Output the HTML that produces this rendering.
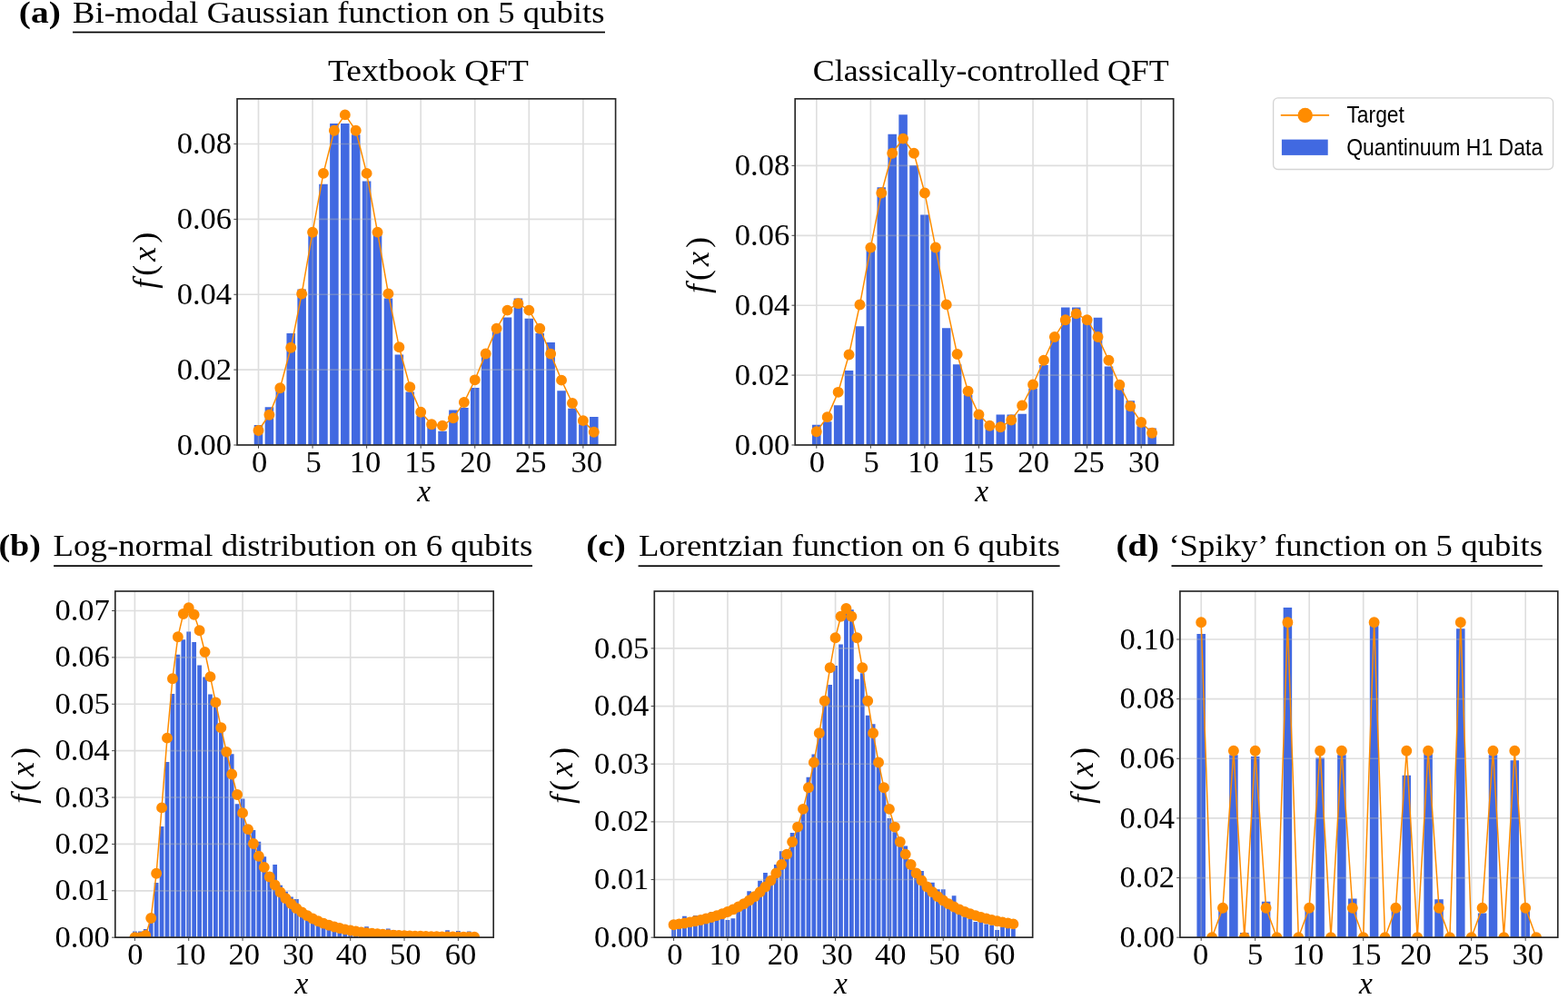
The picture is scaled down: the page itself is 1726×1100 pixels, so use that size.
<!DOCTYPE html>
<html><head><meta charset="utf-8"><title>QFT state preparation results</title>
<style>
html,body{margin:0;padding:0;background:#fff;}
svg{display:block;}
.tk{font-family:'Liberation Serif', 'DejaVu Serif', serif;font-size:34.6px;fill:#000;}
.ttl{font-family:'Liberation Serif', 'DejaVu Serif', serif;font-size:33.6px;fill:#000;}
.hb{font-family:'Liberation Serif', 'DejaVu Serif', serif;font-size:33.6px;font-weight:bold;fill:#000;}
.yl{font-family:'Liberation Serif', 'DejaVu Serif', serif;font-size:36px;fill:#000;}
.xl{font-family:'Liberation Serif', 'DejaVu Serif', serif;font-size:33.5px;font-style:italic;fill:#000;}
.lg{font-family:'Liberation Sans', 'DejaVu Sans', sans-serif;font-size:25.6px;fill:#000;}
</style></head>
<body>
<svg width="1726" height="1100" viewBox="0 0 1726 1100">
<rect width="1726" height="1100" fill="#fff"/>
<defs>
<clipPath id="clip-a1"><rect x="261.05" y="108.80" width="416.55" height="381.20"/></clipPath>
<clipPath id="clip-a2"><rect x="875.20" y="108.80" width="416.50" height="381.20"/></clipPath>
<clipPath id="clip-b"><rect x="126.80" y="651.00" width="416.40" height="381.20"/></clipPath>
<clipPath id="clip-c"><rect x="720.30" y="651.00" width="416.40" height="381.20"/></clipPath>
<clipPath id="clip-d"><rect x="1298.90" y="651.00" width="415.90" height="381.20"/></clipPath>
</defs>
<g clip-path="url(#clip-a1)"><path fill="#4169e1" d="M279.73 468.04h9.53V490.00h-9.53ZM291.65 448.15h9.53V490.00h-9.53ZM303.56 429.92h9.53V490.00h-9.53ZM315.47 366.93h9.53V490.00h-9.53ZM327.39 318.45h9.53V490.00h-9.53ZM339.30 259.19h9.53V490.00h-9.53ZM351.21 202.84h9.53V490.00h-9.53ZM363.13 136.12h9.53V490.00h-9.53ZM375.04 136.12h9.53V490.00h-9.53ZM386.95 148.14h9.53V490.00h-9.53ZM398.86 199.52h9.53V490.00h-9.53ZM410.78 257.95h9.53V490.00h-9.53ZM422.69 328.39h9.53V490.00h-9.53ZM434.60 390.55h9.53V490.00h-9.53ZM446.52 431.57h9.53V490.00h-9.53ZM458.43 457.68h9.53V490.00h-9.53ZM470.34 469.28h9.53V490.00h-9.53ZM482.26 474.67h9.53V490.00h-9.53ZM494.17 451.46h9.53V490.00h-9.53ZM506.08 448.98h9.53V490.00h-9.53ZM517.99 427.01h9.53V490.00h-9.53ZM529.91 393.04h9.53V490.00h-9.53ZM541.82 365.27h9.53V490.00h-9.53ZM553.73 349.53h9.53V490.00h-9.53ZM565.65 328.39h9.53V490.00h-9.53ZM577.56 350.77h9.53V490.00h-9.53ZM589.47 366.93h9.53V490.00h-9.53ZM601.39 376.88h9.53V490.00h-9.53ZM613.30 430.33h9.53V490.00h-9.53ZM625.21 449.81h9.53V490.00h-9.53ZM637.12 467.21h9.53V490.00h-9.53ZM649.04 458.92h9.53V490.00h-9.53Z"/><path stroke="#b0b0b0" stroke-opacity="0.42" stroke-width="1.65" fill="none" d="M284.50 108.80V490.00M344.06 108.80V490.00M403.63 108.80V490.00M463.19 108.80V490.00M522.76 108.80V490.00M582.33 108.80V490.00M641.89 108.80V490.00M261.05 490.00H677.60M261.05 407.12H677.60M261.05 324.25H677.60M261.05 241.38H677.60M261.05 158.50H677.60"/><polyline fill="none" stroke="#ff8c00" stroke-width="1.5" stroke-linejoin="round" points="284.50,474.02 296.41,456.77 308.33,427.31 320.24,382.73 332.15,323.53 344.06,255.70 355.98,190.90 367.89,143.72 379.80,126.39 391.72,143.72 403.63,190.89 415.54,255.65 427.46,323.39 439.37,382.30 451.28,426.13 463.19,453.78 475.11,467.18 487.02,468.79 498.93,460.38 510.85,443.04 522.76,418.33 534.67,389.49 546.59,361.79 558.50,341.59 570.41,334.17 582.33,341.59 594.24,361.82 606.15,389.58 618.06,418.65 629.98,444.03 641.89,463.13 653.80,475.76"/><path fill="#ff8c00" d="M278.55 474.02a5.95 5.95 0 1 0 11.9 0a5.95 5.95 0 1 0 -11.9 0ZM290.46 456.77a5.95 5.95 0 1 0 11.9 0a5.95 5.95 0 1 0 -11.9 0ZM302.38 427.31a5.95 5.95 0 1 0 11.9 0a5.95 5.95 0 1 0 -11.9 0ZM314.29 382.73a5.95 5.95 0 1 0 11.9 0a5.95 5.95 0 1 0 -11.9 0ZM326.20 323.53a5.95 5.95 0 1 0 11.9 0a5.95 5.95 0 1 0 -11.9 0ZM338.12 255.70a5.95 5.95 0 1 0 11.9 0a5.95 5.95 0 1 0 -11.9 0ZM350.03 190.90a5.95 5.95 0 1 0 11.9 0a5.95 5.95 0 1 0 -11.9 0ZM361.94 143.72a5.95 5.95 0 1 0 11.9 0a5.95 5.95 0 1 0 -11.9 0ZM373.85 126.39a5.95 5.95 0 1 0 11.9 0a5.95 5.95 0 1 0 -11.9 0ZM385.77 143.72a5.95 5.95 0 1 0 11.9 0a5.95 5.95 0 1 0 -11.9 0ZM397.68 190.89a5.95 5.95 0 1 0 11.9 0a5.95 5.95 0 1 0 -11.9 0ZM409.59 255.65a5.95 5.95 0 1 0 11.9 0a5.95 5.95 0 1 0 -11.9 0ZM421.51 323.39a5.95 5.95 0 1 0 11.9 0a5.95 5.95 0 1 0 -11.9 0ZM433.42 382.30a5.95 5.95 0 1 0 11.9 0a5.95 5.95 0 1 0 -11.9 0ZM445.33 426.13a5.95 5.95 0 1 0 11.9 0a5.95 5.95 0 1 0 -11.9 0ZM457.25 453.78a5.95 5.95 0 1 0 11.9 0a5.95 5.95 0 1 0 -11.9 0ZM469.16 467.18a5.95 5.95 0 1 0 11.9 0a5.95 5.95 0 1 0 -11.9 0ZM481.07 468.79a5.95 5.95 0 1 0 11.9 0a5.95 5.95 0 1 0 -11.9 0ZM492.98 460.38a5.95 5.95 0 1 0 11.9 0a5.95 5.95 0 1 0 -11.9 0ZM504.90 443.04a5.95 5.95 0 1 0 11.9 0a5.95 5.95 0 1 0 -11.9 0ZM516.81 418.33a5.95 5.95 0 1 0 11.9 0a5.95 5.95 0 1 0 -11.9 0ZM528.72 389.49a5.95 5.95 0 1 0 11.9 0a5.95 5.95 0 1 0 -11.9 0ZM540.64 361.79a5.95 5.95 0 1 0 11.9 0a5.95 5.95 0 1 0 -11.9 0ZM552.55 341.59a5.95 5.95 0 1 0 11.9 0a5.95 5.95 0 1 0 -11.9 0ZM564.46 334.17a5.95 5.95 0 1 0 11.9 0a5.95 5.95 0 1 0 -11.9 0ZM576.38 341.59a5.95 5.95 0 1 0 11.9 0a5.95 5.95 0 1 0 -11.9 0ZM588.29 361.82a5.95 5.95 0 1 0 11.9 0a5.95 5.95 0 1 0 -11.9 0ZM600.20 389.58a5.95 5.95 0 1 0 11.9 0a5.95 5.95 0 1 0 -11.9 0ZM612.11 418.65a5.95 5.95 0 1 0 11.9 0a5.95 5.95 0 1 0 -11.9 0ZM624.03 444.03a5.95 5.95 0 1 0 11.9 0a5.95 5.95 0 1 0 -11.9 0ZM635.94 463.13a5.95 5.95 0 1 0 11.9 0a5.95 5.95 0 1 0 -11.9 0ZM647.85 475.76a5.95 5.95 0 1 0 11.9 0a5.95 5.95 0 1 0 -11.9 0Z"/></g>
<rect x="261.05" y="108.80" width="416.55" height="381.20" fill="none" stroke="#262626" stroke-width="1.65"/>
<path stroke="#3a3a3a" stroke-width="0.95" fill="none" d="M284.50 490.00v3.7M344.06 490.00v3.7M403.63 490.00v3.7M463.19 490.00v3.7M522.76 490.00v3.7M582.33 490.00v3.7M641.89 490.00v3.7M261.05 490.00h-3.7M261.05 407.12h-3.7M261.05 324.25h-3.7M261.05 241.38h-3.7M261.05 158.50h-3.7"/>
<text x="285.60" y="519.60" text-anchor="middle" class="tk">0</text>
<text x="345.17" y="519.60" text-anchor="middle" class="tk">5</text>
<text x="402.13" y="519.60" text-anchor="middle" class="tk">10</text>
<text x="462.60" y="519.60" text-anchor="middle" class="tk">15</text>
<text x="523.66" y="519.60" text-anchor="middle" class="tk">20</text>
<text x="584.33" y="519.60" text-anchor="middle" class="tk">25</text>
<text x="645.69" y="519.60" text-anchor="middle" class="tk">30</text>
<text x="255.15" y="500.60" text-anchor="end" class="tk">0.00</text>
<text x="255.15" y="417.73" text-anchor="end" class="tk">0.02</text>
<text x="255.15" y="334.85" text-anchor="end" class="tk">0.04</text>
<text x="255.15" y="251.97" text-anchor="end" class="tk">0.06</text>
<text x="255.15" y="169.10" text-anchor="end" class="tk">0.08</text>
<g clip-path="url(#clip-a2)"><path fill="#4169e1" d="M894.03 467.70h9.53V490.00h-9.53ZM905.95 464.24h9.53V490.00h-9.53ZM917.86 446.17h9.53V490.00h-9.53ZM929.77 408.10h9.53V490.00h-9.53ZM941.69 359.27h9.53V490.00h-9.53ZM953.60 275.83h9.53V490.00h-9.53ZM965.51 206.24h9.53V490.00h-9.53ZM977.43 147.80h9.53V490.00h-9.53ZM989.34 126.26h9.53V490.00h-9.53ZM1001.25 182.02h9.53V490.00h-9.53ZM1013.16 236.61h9.53V490.00h-9.53ZM1025.08 275.83h9.53V490.00h-9.53ZM1036.99 361.19h9.53V490.00h-9.53ZM1048.90 401.18h9.53V490.00h-9.53ZM1060.82 435.02h9.53V490.00h-9.53ZM1072.73 460.78h9.53V490.00h-9.53ZM1084.64 469.62h9.53V490.00h-9.53ZM1096.56 456.55h9.53V490.00h-9.53ZM1108.47 456.55h9.53V490.00h-9.53ZM1120.38 455.78h9.53V490.00h-9.53ZM1132.29 427.71h9.53V490.00h-9.53ZM1144.21 401.95h9.53V490.00h-9.53ZM1156.12 373.88h9.53V490.00h-9.53ZM1168.03 338.51h9.53V490.00h-9.53ZM1179.95 338.51h9.53V490.00h-9.53ZM1191.86 349.66h9.53V490.00h-9.53ZM1203.77 349.66h9.53V490.00h-9.53ZM1215.69 403.49h9.53V490.00h-9.53ZM1227.60 427.71h9.53V490.00h-9.53ZM1239.51 441.17h9.53V490.00h-9.53ZM1251.42 469.24h9.53V490.00h-9.53ZM1263.34 471.54h9.53V490.00h-9.53Z"/><path stroke="#b0b0b0" stroke-opacity="0.42" stroke-width="1.65" fill="none" d="M898.80 108.80V490.00M958.37 108.80V490.00M1017.93 108.80V490.00M1077.49 108.80V490.00M1137.06 108.80V490.00M1196.62 108.80V490.00M1256.19 108.80V490.00M875.20 490.00H1291.70M875.20 413.10H1291.70M875.20 336.20H1291.70M875.20 259.30H1291.70M875.20 182.40H1291.70"/><polyline fill="none" stroke="#ff8c00" stroke-width="1.5" stroke-linejoin="round" points="898.80,475.18 910.71,459.16 922.63,431.83 934.54,390.46 946.45,335.53 958.37,272.59 970.28,212.47 982.19,168.69 994.10,152.61 1006.02,168.68 1017.93,212.46 1029.84,272.55 1041.76,335.40 1053.67,390.07 1065.58,430.73 1077.49,456.39 1089.41,468.82 1101.32,470.32 1113.23,462.51 1125.15,446.42 1137.06,423.50 1148.97,396.74 1160.89,371.03 1172.80,352.29 1184.71,345.40 1196.62,352.29 1208.54,371.06 1220.45,396.82 1232.36,423.80 1244.28,447.34 1256.19,465.07 1268.10,476.78"/><path fill="#ff8c00" d="M892.85 475.18a5.95 5.95 0 1 0 11.9 0a5.95 5.95 0 1 0 -11.9 0ZM904.76 459.16a5.95 5.95 0 1 0 11.9 0a5.95 5.95 0 1 0 -11.9 0ZM916.68 431.83a5.95 5.95 0 1 0 11.9 0a5.95 5.95 0 1 0 -11.9 0ZM928.59 390.46a5.95 5.95 0 1 0 11.9 0a5.95 5.95 0 1 0 -11.9 0ZM940.50 335.53a5.95 5.95 0 1 0 11.9 0a5.95 5.95 0 1 0 -11.9 0ZM952.41 272.59a5.95 5.95 0 1 0 11.9 0a5.95 5.95 0 1 0 -11.9 0ZM964.33 212.47a5.95 5.95 0 1 0 11.9 0a5.95 5.95 0 1 0 -11.9 0ZM976.24 168.69a5.95 5.95 0 1 0 11.9 0a5.95 5.95 0 1 0 -11.9 0ZM988.15 152.61a5.95 5.95 0 1 0 11.9 0a5.95 5.95 0 1 0 -11.9 0ZM1000.07 168.68a5.95 5.95 0 1 0 11.9 0a5.95 5.95 0 1 0 -11.9 0ZM1011.98 212.46a5.95 5.95 0 1 0 11.9 0a5.95 5.95 0 1 0 -11.9 0ZM1023.89 272.55a5.95 5.95 0 1 0 11.9 0a5.95 5.95 0 1 0 -11.9 0ZM1035.81 335.40a5.95 5.95 0 1 0 11.9 0a5.95 5.95 0 1 0 -11.9 0ZM1047.72 390.07a5.95 5.95 0 1 0 11.9 0a5.95 5.95 0 1 0 -11.9 0ZM1059.63 430.73a5.95 5.95 0 1 0 11.9 0a5.95 5.95 0 1 0 -11.9 0ZM1071.54 456.39a5.95 5.95 0 1 0 11.9 0a5.95 5.95 0 1 0 -11.9 0ZM1083.46 468.82a5.95 5.95 0 1 0 11.9 0a5.95 5.95 0 1 0 -11.9 0ZM1095.37 470.32a5.95 5.95 0 1 0 11.9 0a5.95 5.95 0 1 0 -11.9 0ZM1107.28 462.51a5.95 5.95 0 1 0 11.9 0a5.95 5.95 0 1 0 -11.9 0ZM1119.20 446.42a5.95 5.95 0 1 0 11.9 0a5.95 5.95 0 1 0 -11.9 0ZM1131.11 423.50a5.95 5.95 0 1 0 11.9 0a5.95 5.95 0 1 0 -11.9 0ZM1143.02 396.74a5.95 5.95 0 1 0 11.9 0a5.95 5.95 0 1 0 -11.9 0ZM1154.94 371.03a5.95 5.95 0 1 0 11.9 0a5.95 5.95 0 1 0 -11.9 0ZM1166.85 352.29a5.95 5.95 0 1 0 11.9 0a5.95 5.95 0 1 0 -11.9 0ZM1178.76 345.40a5.95 5.95 0 1 0 11.9 0a5.95 5.95 0 1 0 -11.9 0ZM1190.67 352.29a5.95 5.95 0 1 0 11.9 0a5.95 5.95 0 1 0 -11.9 0ZM1202.59 371.06a5.95 5.95 0 1 0 11.9 0a5.95 5.95 0 1 0 -11.9 0ZM1214.50 396.82a5.95 5.95 0 1 0 11.9 0a5.95 5.95 0 1 0 -11.9 0ZM1226.41 423.80a5.95 5.95 0 1 0 11.9 0a5.95 5.95 0 1 0 -11.9 0ZM1238.33 447.34a5.95 5.95 0 1 0 11.9 0a5.95 5.95 0 1 0 -11.9 0ZM1250.24 465.07a5.95 5.95 0 1 0 11.9 0a5.95 5.95 0 1 0 -11.9 0ZM1262.15 476.78a5.95 5.95 0 1 0 11.9 0a5.95 5.95 0 1 0 -11.9 0Z"/></g>
<rect x="875.20" y="108.80" width="416.50" height="381.20" fill="none" stroke="#262626" stroke-width="1.65"/>
<path stroke="#3a3a3a" stroke-width="0.95" fill="none" d="M898.80 490.00v3.7M958.37 490.00v3.7M1017.93 490.00v3.7M1077.49 490.00v3.7M1137.06 490.00v3.7M1196.62 490.00v3.7M1256.19 490.00v3.7M875.20 490.00h-3.7M875.20 413.10h-3.7M875.20 336.20h-3.7M875.20 259.30h-3.7M875.20 182.40h-3.7"/>
<text x="899.40" y="519.60" text-anchor="middle" class="tk">0</text>
<text x="959.17" y="519.60" text-anchor="middle" class="tk">5</text>
<text x="1016.43" y="519.60" text-anchor="middle" class="tk">10</text>
<text x="1076.69" y="519.60" text-anchor="middle" class="tk">15</text>
<text x="1137.66" y="519.60" text-anchor="middle" class="tk">20</text>
<text x="1198.42" y="519.60" text-anchor="middle" class="tk">25</text>
<text x="1259.29" y="519.60" text-anchor="middle" class="tk">30</text>
<text x="869.30" y="500.60" text-anchor="end" class="tk">0.00</text>
<text x="869.30" y="423.70" text-anchor="end" class="tk">0.02</text>
<text x="869.30" y="346.80" text-anchor="end" class="tk">0.04</text>
<text x="869.30" y="269.90" text-anchor="end" class="tk">0.06</text>
<text x="869.30" y="193.00" text-anchor="end" class="tk">0.08</text>
<g clip-path="url(#clip-b)"><path fill="#4169e1" d="M146.03 1025.52h4.75V1032.20h-4.75ZM151.96 1025.52h4.75V1032.20h-4.75ZM157.89 1022.95h4.75V1032.20h-4.75ZM163.83 1014.22h4.75V1032.20h-4.75ZM169.76 972.08h4.75V1032.20h-4.75ZM175.69 909.90h4.75V1032.20h-4.75ZM181.62 838.99h4.75V1032.20h-4.75ZM187.56 763.97h4.75V1032.20h-4.75ZM193.49 720.80h4.75V1032.20h-4.75ZM199.42 704.36h4.75V1032.20h-4.75ZM205.36 695.62h4.75V1032.20h-4.75ZM211.29 706.93h4.75V1032.20h-4.75ZM217.22 732.62h4.75V1032.20h-4.75ZM223.16 745.47h4.75V1032.20h-4.75ZM229.09 764.48h4.75V1032.20h-4.75ZM235.02 775.27h4.75V1032.20h-4.75ZM240.95 803.53h4.75V1032.20h-4.75ZM246.89 826.66h4.75V1032.20h-4.75ZM252.82 830.25h4.75V1032.20h-4.75ZM258.75 885.24h4.75V1032.20h-4.75ZM264.69 879.58h4.75V1032.20h-4.75ZM270.62 918.12h4.75V1032.20h-4.75ZM276.55 914.01h4.75V1032.20h-4.75ZM282.49 926.86h4.75V1032.20h-4.75ZM288.42 943.30h4.75V1032.20h-4.75ZM294.35 966.43h4.75V1032.20h-4.75ZM300.28 952.04h4.75V1032.20h-4.75ZM306.22 974.65h4.75V1032.20h-4.75ZM312.15 981.84h4.75V1032.20h-4.75ZM318.08 987.49h4.75V1032.20h-4.75ZM324.02 990.06h4.75V1032.20h-4.75ZM329.95 1006.06h4.75V1032.20h-4.75ZM335.88 1009.81h4.75V1032.20h-4.75ZM341.82 1013.04h4.75V1032.20h-4.75ZM347.75 1015.82h4.75V1032.20h-4.75ZM353.68 1018.21h4.75V1032.20h-4.75ZM359.61 1020.27h4.75V1032.20h-4.75ZM365.55 1022.05h4.75V1032.20h-4.75ZM371.48 1023.59h4.75V1032.20h-4.75ZM377.41 1024.91h4.75V1032.20h-4.75ZM383.35 1026.05h4.75V1032.20h-4.75ZM389.28 1027.04h4.75V1032.20h-4.75ZM395.21 1027.90h4.75V1032.20h-4.75ZM401.15 1020.18h4.75V1032.20h-4.75ZM407.08 1029.29h4.75V1032.20h-4.75ZM413.01 1029.84h4.75V1032.20h-4.75ZM418.94 1030.33h4.75V1032.20h-4.75ZM424.88 1022.44h4.75V1032.20h-4.75ZM430.81 1023.98h4.75V1032.20h-4.75ZM436.74 1031.44h4.75V1032.20h-4.75ZM442.68 1031.71h4.75V1032.20h-4.75ZM448.61 1031.96h4.75V1032.20h-4.75ZM454.54 1032.17h4.75V1032.20h-4.75ZM490.14 1024.24h4.75V1032.20h-4.75ZM502.01 1025.01h4.75V1032.20h-4.75ZM513.87 1025.52h4.75V1032.20h-4.75Z"/><path stroke="#b0b0b0" stroke-opacity="0.42" stroke-width="1.65" fill="none" d="M148.40 651.00V1032.20M207.73 651.00V1032.20M267.06 651.00V1032.20M326.39 651.00V1032.20M385.72 651.00V1032.20M445.05 651.00V1032.20M504.38 651.00V1032.20M126.80 1032.20H543.20M126.80 980.81H543.20M126.80 929.43H543.20M126.80 878.04H543.20M126.80 826.66H543.20M126.80 775.27H543.20M126.80 723.89H543.20M126.80 672.50H543.20"/><polyline fill="none" stroke="#ff8c00" stroke-width="1.5" stroke-linejoin="round" points="148.40,1032.20 154.33,1032.19 160.27,1029.97 166.20,1011.01 172.13,961.72 178.06,889.41 184.00,812.64 189.93,747.22 195.86,701.20 201.80,676.03 207.73,669.23 213.66,676.72 219.60,694.23 225.53,718.03 231.46,745.14 237.40,773.40 243.33,801.29 249.26,827.85 255.19,852.50 261.13,874.96 267.06,895.15 272.99,913.10 278.93,928.93 284.86,942.81 290.79,954.92 296.73,965.44 302.66,974.56 308.59,982.44 314.52,989.25 320.46,995.11 326.39,1000.17 332.32,1004.52 338.26,1008.27 344.19,1011.50 350.12,1014.28 356.06,1016.67 361.99,1018.73 367.92,1020.51 373.85,1022.04 379.79,1023.37 385.72,1024.51 391.65,1025.50 397.59,1026.36 403.52,1027.10 409.45,1027.74 415.38,1028.30 421.32,1028.79 427.25,1029.21 433.18,1029.58 439.12,1029.89 445.05,1030.17 450.98,1030.42 456.92,1030.63 462.85,1030.81 468.78,1030.98 474.72,1031.12 480.65,1031.25 486.58,1031.36 492.51,1031.45 498.45,1031.54 504.38,1031.61 510.31,1031.68 516.25,1031.74 522.18,1031.79"/><path fill="#ff8c00" d="M142.45 1032.20a5.95 5.95 0 1 0 11.9 0a5.95 5.95 0 1 0 -11.9 0ZM148.38 1032.19a5.95 5.95 0 1 0 11.9 0a5.95 5.95 0 1 0 -11.9 0ZM154.32 1029.97a5.95 5.95 0 1 0 11.9 0a5.95 5.95 0 1 0 -11.9 0ZM160.25 1011.01a5.95 5.95 0 1 0 11.9 0a5.95 5.95 0 1 0 -11.9 0ZM166.18 961.72a5.95 5.95 0 1 0 11.9 0a5.95 5.95 0 1 0 -11.9 0ZM172.12 889.41a5.95 5.95 0 1 0 11.9 0a5.95 5.95 0 1 0 -11.9 0ZM178.05 812.64a5.95 5.95 0 1 0 11.9 0a5.95 5.95 0 1 0 -11.9 0ZM183.98 747.22a5.95 5.95 0 1 0 11.9 0a5.95 5.95 0 1 0 -11.9 0ZM189.91 701.20a5.95 5.95 0 1 0 11.9 0a5.95 5.95 0 1 0 -11.9 0ZM195.85 676.03a5.95 5.95 0 1 0 11.9 0a5.95 5.95 0 1 0 -11.9 0ZM201.78 669.23a5.95 5.95 0 1 0 11.9 0a5.95 5.95 0 1 0 -11.9 0ZM207.71 676.72a5.95 5.95 0 1 0 11.9 0a5.95 5.95 0 1 0 -11.9 0ZM213.65 694.23a5.95 5.95 0 1 0 11.9 0a5.95 5.95 0 1 0 -11.9 0ZM219.58 718.03a5.95 5.95 0 1 0 11.9 0a5.95 5.95 0 1 0 -11.9 0ZM225.51 745.14a5.95 5.95 0 1 0 11.9 0a5.95 5.95 0 1 0 -11.9 0ZM231.45 773.40a5.95 5.95 0 1 0 11.9 0a5.95 5.95 0 1 0 -11.9 0ZM237.38 801.29a5.95 5.95 0 1 0 11.9 0a5.95 5.95 0 1 0 -11.9 0ZM243.31 827.85a5.95 5.95 0 1 0 11.9 0a5.95 5.95 0 1 0 -11.9 0ZM249.24 852.50a5.95 5.95 0 1 0 11.9 0a5.95 5.95 0 1 0 -11.9 0ZM255.18 874.96a5.95 5.95 0 1 0 11.9 0a5.95 5.95 0 1 0 -11.9 0ZM261.11 895.15a5.95 5.95 0 1 0 11.9 0a5.95 5.95 0 1 0 -11.9 0ZM267.04 913.10a5.95 5.95 0 1 0 11.9 0a5.95 5.95 0 1 0 -11.9 0ZM272.98 928.93a5.95 5.95 0 1 0 11.9 0a5.95 5.95 0 1 0 -11.9 0ZM278.91 942.81a5.95 5.95 0 1 0 11.9 0a5.95 5.95 0 1 0 -11.9 0ZM284.84 954.92a5.95 5.95 0 1 0 11.9 0a5.95 5.95 0 1 0 -11.9 0ZM290.78 965.44a5.95 5.95 0 1 0 11.9 0a5.95 5.95 0 1 0 -11.9 0ZM296.71 974.56a5.95 5.95 0 1 0 11.9 0a5.95 5.95 0 1 0 -11.9 0ZM302.64 982.44a5.95 5.95 0 1 0 11.9 0a5.95 5.95 0 1 0 -11.9 0ZM308.57 989.25a5.95 5.95 0 1 0 11.9 0a5.95 5.95 0 1 0 -11.9 0ZM314.51 995.11a5.95 5.95 0 1 0 11.9 0a5.95 5.95 0 1 0 -11.9 0ZM320.44 1000.17a5.95 5.95 0 1 0 11.9 0a5.95 5.95 0 1 0 -11.9 0ZM326.37 1004.52a5.95 5.95 0 1 0 11.9 0a5.95 5.95 0 1 0 -11.9 0ZM332.31 1008.27a5.95 5.95 0 1 0 11.9 0a5.95 5.95 0 1 0 -11.9 0ZM338.24 1011.50a5.95 5.95 0 1 0 11.9 0a5.95 5.95 0 1 0 -11.9 0ZM344.17 1014.28a5.95 5.95 0 1 0 11.9 0a5.95 5.95 0 1 0 -11.9 0ZM350.11 1016.67a5.95 5.95 0 1 0 11.9 0a5.95 5.95 0 1 0 -11.9 0ZM356.04 1018.73a5.95 5.95 0 1 0 11.9 0a5.95 5.95 0 1 0 -11.9 0ZM361.97 1020.51a5.95 5.95 0 1 0 11.9 0a5.95 5.95 0 1 0 -11.9 0ZM367.90 1022.04a5.95 5.95 0 1 0 11.9 0a5.95 5.95 0 1 0 -11.9 0ZM373.84 1023.37a5.95 5.95 0 1 0 11.9 0a5.95 5.95 0 1 0 -11.9 0ZM379.77 1024.51a5.95 5.95 0 1 0 11.9 0a5.95 5.95 0 1 0 -11.9 0ZM385.70 1025.50a5.95 5.95 0 1 0 11.9 0a5.95 5.95 0 1 0 -11.9 0ZM391.64 1026.36a5.95 5.95 0 1 0 11.9 0a5.95 5.95 0 1 0 -11.9 0ZM397.57 1027.10a5.95 5.95 0 1 0 11.9 0a5.95 5.95 0 1 0 -11.9 0ZM403.50 1027.74a5.95 5.95 0 1 0 11.9 0a5.95 5.95 0 1 0 -11.9 0ZM409.44 1028.30a5.95 5.95 0 1 0 11.9 0a5.95 5.95 0 1 0 -11.9 0ZM415.37 1028.79a5.95 5.95 0 1 0 11.9 0a5.95 5.95 0 1 0 -11.9 0ZM421.30 1029.21a5.95 5.95 0 1 0 11.9 0a5.95 5.95 0 1 0 -11.9 0ZM427.23 1029.58a5.95 5.95 0 1 0 11.9 0a5.95 5.95 0 1 0 -11.9 0ZM433.17 1029.89a5.95 5.95 0 1 0 11.9 0a5.95 5.95 0 1 0 -11.9 0ZM439.10 1030.17a5.95 5.95 0 1 0 11.9 0a5.95 5.95 0 1 0 -11.9 0ZM445.03 1030.42a5.95 5.95 0 1 0 11.9 0a5.95 5.95 0 1 0 -11.9 0ZM450.97 1030.63a5.95 5.95 0 1 0 11.9 0a5.95 5.95 0 1 0 -11.9 0ZM456.90 1030.81a5.95 5.95 0 1 0 11.9 0a5.95 5.95 0 1 0 -11.9 0ZM462.83 1030.98a5.95 5.95 0 1 0 11.9 0a5.95 5.95 0 1 0 -11.9 0ZM468.77 1031.12a5.95 5.95 0 1 0 11.9 0a5.95 5.95 0 1 0 -11.9 0ZM474.70 1031.25a5.95 5.95 0 1 0 11.9 0a5.95 5.95 0 1 0 -11.9 0ZM480.63 1031.36a5.95 5.95 0 1 0 11.9 0a5.95 5.95 0 1 0 -11.9 0ZM486.56 1031.45a5.95 5.95 0 1 0 11.9 0a5.95 5.95 0 1 0 -11.9 0ZM492.50 1031.54a5.95 5.95 0 1 0 11.9 0a5.95 5.95 0 1 0 -11.9 0ZM498.43 1031.61a5.95 5.95 0 1 0 11.9 0a5.95 5.95 0 1 0 -11.9 0ZM504.36 1031.68a5.95 5.95 0 1 0 11.9 0a5.95 5.95 0 1 0 -11.9 0ZM510.30 1031.74a5.95 5.95 0 1 0 11.9 0a5.95 5.95 0 1 0 -11.9 0ZM516.23 1031.79a5.95 5.95 0 1 0 11.9 0a5.95 5.95 0 1 0 -11.9 0Z"/></g>
<rect x="126.80" y="651.00" width="416.40" height="381.20" fill="none" stroke="#262626" stroke-width="1.65"/>
<path stroke="#3a3a3a" stroke-width="0.95" fill="none" d="M148.40 1032.20v3.7M207.73 1032.20v3.7M267.06 1032.20v3.7M326.39 1032.20v3.7M385.72 1032.20v3.7M445.05 1032.20v3.7M504.38 1032.20v3.7M126.80 1032.20h-3.7M126.80 980.81h-3.7M126.80 929.43h-3.7M126.80 878.04h-3.7M126.80 826.66h-3.7M126.80 775.27h-3.7M126.80 723.89h-3.7M126.80 672.50h-3.7"/>
<text x="149.00" y="1061.80" text-anchor="middle" class="tk">0</text>
<text x="209.33" y="1061.80" text-anchor="middle" class="tk">10</text>
<text x="268.86" y="1061.80" text-anchor="middle" class="tk">20</text>
<text x="328.19" y="1061.80" text-anchor="middle" class="tk">30</text>
<text x="387.02" y="1061.80" text-anchor="middle" class="tk">40</text>
<text x="446.25" y="1061.80" text-anchor="middle" class="tk">50</text>
<text x="506.98" y="1061.80" text-anchor="middle" class="tk">60</text>
<text x="120.90" y="1042.80" text-anchor="end" class="tk">0.00</text>
<text x="120.90" y="991.41" text-anchor="end" class="tk">0.01</text>
<text x="120.90" y="940.03" text-anchor="end" class="tk">0.02</text>
<text x="120.90" y="888.64" text-anchor="end" class="tk">0.03</text>
<text x="120.90" y="837.26" text-anchor="end" class="tk">0.04</text>
<text x="120.90" y="785.87" text-anchor="end" class="tk">0.05</text>
<text x="120.90" y="734.49" text-anchor="end" class="tk">0.06</text>
<text x="120.90" y="683.10" text-anchor="end" class="tk">0.07</text>
<g clip-path="url(#clip-c)"><path fill="#4169e1" d="M739.23 1020.82h4.75V1032.20h-4.75ZM745.16 1019.94h4.75V1032.20h-4.75ZM751.09 1008.65h4.75V1032.20h-4.75ZM757.03 1017.93h4.75V1032.20h-4.75ZM762.96 1008.01h4.75V1032.20h-4.75ZM768.89 1015.48h4.75V1032.20h-4.75ZM774.82 1014.06h4.75V1032.20h-4.75ZM780.76 1004.19h4.75V1032.20h-4.75ZM786.69 1010.70h4.75V1032.20h-4.75ZM792.62 1008.72h4.75V1032.20h-4.75ZM798.56 1013.10h4.75V1032.20h-4.75ZM804.49 1011.19h4.75V1032.20h-4.75ZM810.42 1001.11h4.75V1032.20h-4.75ZM816.36 997.84h4.75V1032.20h-4.75ZM822.29 981.27h4.75V1032.20h-4.75ZM828.22 989.79h4.75V1032.20h-4.75ZM834.15 969.81h4.75V1032.20h-4.75ZM840.09 960.90h4.75V1032.20h-4.75ZM846.02 972.15h4.75V1032.20h-4.75ZM851.95 951.99h4.75V1032.20h-4.75ZM857.89 937.35h4.75V1032.20h-4.75ZM863.82 943.16h4.75V1032.20h-4.75ZM869.75 916.98h4.75V1032.20h-4.75ZM875.69 913.12h4.75V1032.20h-4.75ZM881.62 893.43h4.75V1032.20h-4.75ZM887.55 855.86h4.75V1032.20h-4.75ZM893.48 830.40h4.75V1032.20h-4.75ZM899.42 809.87h4.75V1032.20h-4.75ZM905.35 774.34h4.75V1032.20h-4.75ZM911.28 754.01h4.75V1032.20h-4.75ZM917.22 733.00h4.75V1032.20h-4.75ZM923.15 709.44h4.75V1032.20h-4.75ZM929.08 675.07h4.75V1032.20h-4.75ZM935.02 671.25h4.75V1032.20h-4.75ZM940.95 747.64h4.75V1032.20h-4.75ZM946.88 741.27h4.75V1032.20h-4.75ZM952.81 787.75h4.75V1032.20h-4.75ZM958.75 797.29h4.75V1032.20h-4.75ZM964.68 842.01h4.75V1032.20h-4.75ZM970.61 869.86h4.75V1032.20h-4.75ZM976.55 901.06h4.75V1032.20h-4.75ZM982.48 916.34h4.75V1032.20h-4.75ZM988.41 929.52h4.75V1032.20h-4.75ZM994.35 931.62h4.75V1032.20h-4.75ZM1000.28 954.55h4.75V1032.20h-4.75ZM1006.21 957.08h4.75V1032.20h-4.75ZM1012.14 958.99h4.75V1032.20h-4.75ZM1018.08 978.97h4.75V1032.20h-4.75ZM1024.01 971.72h4.75V1032.20h-4.75ZM1029.94 979.36h4.75V1032.20h-4.75ZM1035.88 979.36h4.75V1032.20h-4.75ZM1041.81 997.84h4.75V1032.20h-4.75ZM1047.74 986.36h4.75V1032.20h-4.75ZM1053.68 1002.28h4.75V1032.20h-4.75ZM1059.61 1009.28h4.75V1032.20h-4.75ZM1065.54 1011.83h4.75V1032.20h-4.75ZM1071.47 1015.01h4.75V1032.20h-4.75ZM1077.41 1015.01h4.75V1032.20h-4.75ZM1083.34 1017.56h4.75V1032.20h-4.75ZM1089.27 1018.83h4.75V1032.20h-4.75ZM1095.21 1023.92h4.75V1032.20h-4.75ZM1101.14 1020.74h4.75V1032.20h-4.75ZM1107.07 1022.01h4.75V1032.20h-4.75ZM1113.01 1022.65h4.75V1032.20h-4.75Z"/><path stroke="#b0b0b0" stroke-opacity="0.42" stroke-width="1.65" fill="none" d="M741.60 651.00V1032.20M800.93 651.00V1032.20M860.26 651.00V1032.20M919.59 651.00V1032.20M978.92 651.00V1032.20M1038.25 651.00V1032.20M1097.58 651.00V1032.20M720.30 1032.20H1136.70M720.30 968.54H1136.70M720.30 904.88H1136.70M720.30 841.22H1136.70M720.30 777.56H1136.70M720.30 713.90H1136.70"/><polyline fill="none" stroke="#ff8c00" stroke-width="1.5" stroke-linejoin="round" points="741.60,1018.27 747.53,1017.40 753.47,1016.44 759.40,1015.38 765.33,1014.22 771.26,1012.94 777.20,1011.51 783.13,1009.93 789.06,1008.16 795.00,1006.18 800.93,1003.94 806.86,1001.42 812.80,998.56 818.73,995.30 824.66,991.56 830.60,987.25 836.53,982.25 842.46,976.43 848.39,969.60 854.33,961.55 860.26,952.00 866.19,940.62 872.13,926.97 878.06,910.58 883.99,890.88 889.92,867.32 895.86,839.46 901.79,807.32 907.72,771.79 913.66,735.30 919.59,702.28 925.52,678.70 931.46,670.07 937.39,678.70 943.32,702.28 949.25,735.30 955.19,771.79 961.12,807.32 967.05,839.46 972.99,867.32 978.92,890.88 984.85,910.58 990.79,926.97 996.72,940.62 1002.65,952.00 1008.59,961.55 1014.52,969.60 1020.45,976.43 1026.38,982.25 1032.32,987.25 1038.25,991.56 1044.18,995.30 1050.12,998.56 1056.05,1001.42 1061.98,1003.94 1067.91,1006.18 1073.85,1008.16 1079.78,1009.93 1085.71,1011.51 1091.65,1012.94 1097.58,1014.22 1103.51,1015.38 1109.45,1016.44 1115.38,1017.40"/><path fill="#ff8c00" d="M735.65 1018.27a5.95 5.95 0 1 0 11.9 0a5.95 5.95 0 1 0 -11.9 0ZM741.58 1017.40a5.95 5.95 0 1 0 11.9 0a5.95 5.95 0 1 0 -11.9 0ZM747.52 1016.44a5.95 5.95 0 1 0 11.9 0a5.95 5.95 0 1 0 -11.9 0ZM753.45 1015.38a5.95 5.95 0 1 0 11.9 0a5.95 5.95 0 1 0 -11.9 0ZM759.38 1014.22a5.95 5.95 0 1 0 11.9 0a5.95 5.95 0 1 0 -11.9 0ZM765.31 1012.94a5.95 5.95 0 1 0 11.9 0a5.95 5.95 0 1 0 -11.9 0ZM771.25 1011.51a5.95 5.95 0 1 0 11.9 0a5.95 5.95 0 1 0 -11.9 0ZM777.18 1009.93a5.95 5.95 0 1 0 11.9 0a5.95 5.95 0 1 0 -11.9 0ZM783.11 1008.16a5.95 5.95 0 1 0 11.9 0a5.95 5.95 0 1 0 -11.9 0ZM789.05 1006.18a5.95 5.95 0 1 0 11.9 0a5.95 5.95 0 1 0 -11.9 0ZM794.98 1003.94a5.95 5.95 0 1 0 11.9 0a5.95 5.95 0 1 0 -11.9 0ZM800.91 1001.42a5.95 5.95 0 1 0 11.9 0a5.95 5.95 0 1 0 -11.9 0ZM806.85 998.56a5.95 5.95 0 1 0 11.9 0a5.95 5.95 0 1 0 -11.9 0ZM812.78 995.30a5.95 5.95 0 1 0 11.9 0a5.95 5.95 0 1 0 -11.9 0ZM818.71 991.56a5.95 5.95 0 1 0 11.9 0a5.95 5.95 0 1 0 -11.9 0ZM824.64 987.25a5.95 5.95 0 1 0 11.9 0a5.95 5.95 0 1 0 -11.9 0ZM830.58 982.25a5.95 5.95 0 1 0 11.9 0a5.95 5.95 0 1 0 -11.9 0ZM836.51 976.43a5.95 5.95 0 1 0 11.9 0a5.95 5.95 0 1 0 -11.9 0ZM842.44 969.60a5.95 5.95 0 1 0 11.9 0a5.95 5.95 0 1 0 -11.9 0ZM848.38 961.55a5.95 5.95 0 1 0 11.9 0a5.95 5.95 0 1 0 -11.9 0ZM854.31 952.00a5.95 5.95 0 1 0 11.9 0a5.95 5.95 0 1 0 -11.9 0ZM860.24 940.62a5.95 5.95 0 1 0 11.9 0a5.95 5.95 0 1 0 -11.9 0ZM866.18 926.97a5.95 5.95 0 1 0 11.9 0a5.95 5.95 0 1 0 -11.9 0ZM872.11 910.58a5.95 5.95 0 1 0 11.9 0a5.95 5.95 0 1 0 -11.9 0ZM878.04 890.88a5.95 5.95 0 1 0 11.9 0a5.95 5.95 0 1 0 -11.9 0ZM883.97 867.32a5.95 5.95 0 1 0 11.9 0a5.95 5.95 0 1 0 -11.9 0ZM889.91 839.46a5.95 5.95 0 1 0 11.9 0a5.95 5.95 0 1 0 -11.9 0ZM895.84 807.32a5.95 5.95 0 1 0 11.9 0a5.95 5.95 0 1 0 -11.9 0ZM901.77 771.79a5.95 5.95 0 1 0 11.9 0a5.95 5.95 0 1 0 -11.9 0ZM907.71 735.30a5.95 5.95 0 1 0 11.9 0a5.95 5.95 0 1 0 -11.9 0ZM913.64 702.28a5.95 5.95 0 1 0 11.9 0a5.95 5.95 0 1 0 -11.9 0ZM919.57 678.70a5.95 5.95 0 1 0 11.9 0a5.95 5.95 0 1 0 -11.9 0ZM925.51 670.07a5.95 5.95 0 1 0 11.9 0a5.95 5.95 0 1 0 -11.9 0ZM931.44 678.70a5.95 5.95 0 1 0 11.9 0a5.95 5.95 0 1 0 -11.9 0ZM937.37 702.28a5.95 5.95 0 1 0 11.9 0a5.95 5.95 0 1 0 -11.9 0ZM943.30 735.30a5.95 5.95 0 1 0 11.9 0a5.95 5.95 0 1 0 -11.9 0ZM949.24 771.79a5.95 5.95 0 1 0 11.9 0a5.95 5.95 0 1 0 -11.9 0ZM955.17 807.32a5.95 5.95 0 1 0 11.9 0a5.95 5.95 0 1 0 -11.9 0ZM961.10 839.46a5.95 5.95 0 1 0 11.9 0a5.95 5.95 0 1 0 -11.9 0ZM967.04 867.32a5.95 5.95 0 1 0 11.9 0a5.95 5.95 0 1 0 -11.9 0ZM972.97 890.88a5.95 5.95 0 1 0 11.9 0a5.95 5.95 0 1 0 -11.9 0ZM978.90 910.58a5.95 5.95 0 1 0 11.9 0a5.95 5.95 0 1 0 -11.9 0ZM984.84 926.97a5.95 5.95 0 1 0 11.9 0a5.95 5.95 0 1 0 -11.9 0ZM990.77 940.62a5.95 5.95 0 1 0 11.9 0a5.95 5.95 0 1 0 -11.9 0ZM996.70 952.00a5.95 5.95 0 1 0 11.9 0a5.95 5.95 0 1 0 -11.9 0ZM1002.63 961.55a5.95 5.95 0 1 0 11.9 0a5.95 5.95 0 1 0 -11.9 0ZM1008.57 969.60a5.95 5.95 0 1 0 11.9 0a5.95 5.95 0 1 0 -11.9 0ZM1014.50 976.43a5.95 5.95 0 1 0 11.9 0a5.95 5.95 0 1 0 -11.9 0ZM1020.43 982.25a5.95 5.95 0 1 0 11.9 0a5.95 5.95 0 1 0 -11.9 0ZM1026.37 987.25a5.95 5.95 0 1 0 11.9 0a5.95 5.95 0 1 0 -11.9 0ZM1032.30 991.56a5.95 5.95 0 1 0 11.9 0a5.95 5.95 0 1 0 -11.9 0ZM1038.23 995.30a5.95 5.95 0 1 0 11.9 0a5.95 5.95 0 1 0 -11.9 0ZM1044.17 998.56a5.95 5.95 0 1 0 11.9 0a5.95 5.95 0 1 0 -11.9 0ZM1050.10 1001.42a5.95 5.95 0 1 0 11.9 0a5.95 5.95 0 1 0 -11.9 0ZM1056.03 1003.94a5.95 5.95 0 1 0 11.9 0a5.95 5.95 0 1 0 -11.9 0ZM1061.96 1006.18a5.95 5.95 0 1 0 11.9 0a5.95 5.95 0 1 0 -11.9 0ZM1067.90 1008.16a5.95 5.95 0 1 0 11.9 0a5.95 5.95 0 1 0 -11.9 0ZM1073.83 1009.93a5.95 5.95 0 1 0 11.9 0a5.95 5.95 0 1 0 -11.9 0ZM1079.76 1011.51a5.95 5.95 0 1 0 11.9 0a5.95 5.95 0 1 0 -11.9 0ZM1085.70 1012.94a5.95 5.95 0 1 0 11.9 0a5.95 5.95 0 1 0 -11.9 0ZM1091.63 1014.22a5.95 5.95 0 1 0 11.9 0a5.95 5.95 0 1 0 -11.9 0ZM1097.56 1015.38a5.95 5.95 0 1 0 11.9 0a5.95 5.95 0 1 0 -11.9 0ZM1103.50 1016.44a5.95 5.95 0 1 0 11.9 0a5.95 5.95 0 1 0 -11.9 0ZM1109.43 1017.40a5.95 5.95 0 1 0 11.9 0a5.95 5.95 0 1 0 -11.9 0Z"/></g>
<rect x="720.30" y="651.00" width="416.40" height="381.20" fill="none" stroke="#262626" stroke-width="1.65"/>
<path stroke="#3a3a3a" stroke-width="0.95" fill="none" d="M741.60 1032.20v3.7M800.93 1032.20v3.7M860.26 1032.20v3.7M919.59 1032.20v3.7M978.92 1032.20v3.7M1038.25 1032.20v3.7M1097.58 1032.20v3.7M720.30 1032.20h-3.7M720.30 968.54h-3.7M720.30 904.88h-3.7M720.30 841.22h-3.7M720.30 777.56h-3.7M720.30 713.90h-3.7"/>
<text x="742.80" y="1061.80" text-anchor="middle" class="tk">0</text>
<text x="797.73" y="1061.80" text-anchor="middle" class="tk">10</text>
<text x="862.06" y="1061.80" text-anchor="middle" class="tk">20</text>
<text x="921.39" y="1061.80" text-anchor="middle" class="tk">30</text>
<text x="980.22" y="1061.80" text-anchor="middle" class="tk">40</text>
<text x="1039.45" y="1061.80" text-anchor="middle" class="tk">50</text>
<text x="1100.18" y="1061.80" text-anchor="middle" class="tk">60</text>
<text x="714.40" y="1042.80" text-anchor="end" class="tk">0.00</text>
<text x="714.40" y="979.14" text-anchor="end" class="tk">0.01</text>
<text x="714.40" y="915.48" text-anchor="end" class="tk">0.02</text>
<text x="714.40" y="851.82" text-anchor="end" class="tk">0.03</text>
<text x="714.40" y="788.16" text-anchor="end" class="tk">0.04</text>
<text x="714.40" y="724.50" text-anchor="end" class="tk">0.05</text>
<g clip-path="url(#clip-d)"><path fill="#4169e1" d="M1317.44 698.09h9.52V1032.20h-9.52ZM1341.24 1002.33h9.52V1032.20h-9.52ZM1353.14 831.34h9.52V1032.20h-9.52ZM1365.04 1026.95h9.52V1032.20h-9.52ZM1376.94 832.98h9.52V1032.20h-9.52ZM1388.84 992.82h9.52V1032.20h-9.52ZM1412.64 668.88h9.52V1032.20h-9.52ZM1436.44 1002.66h9.52V1032.20h-9.52ZM1448.34 834.62h9.52V1032.20h-9.52ZM1472.14 831.34h9.52V1032.20h-9.52ZM1484.04 989.53h9.52V1032.20h-9.52ZM1507.84 687.92h9.52V1032.20h-9.52ZM1531.64 1002.33h9.52V1032.20h-9.52ZM1543.54 853.66h9.52V1032.20h-9.52ZM1567.34 830.36h9.52V1032.20h-9.52ZM1579.24 990.19h9.52V1032.20h-9.52ZM1603.04 692.18h9.52V1032.20h-9.52ZM1626.84 1005.62h9.52V1032.20h-9.52ZM1638.74 831.34h9.52V1032.20h-9.52ZM1662.54 837.25h9.52V1032.20h-9.52ZM1674.44 1002.66h9.52V1032.20h-9.52Z"/><path stroke="#b0b0b0" stroke-opacity="0.42" stroke-width="1.65" fill="none" d="M1322.20 651.00V1032.20M1381.70 651.00V1032.20M1441.20 651.00V1032.20M1500.70 651.00V1032.20M1560.20 651.00V1032.20M1619.70 651.00V1032.20M1679.20 651.00V1032.20M1298.90 1032.20H1714.80M1298.90 966.56H1714.80M1298.90 900.92H1714.80M1298.90 835.28H1714.80M1298.90 769.64H1714.80M1298.90 704.00H1714.80"/><polyline fill="none" stroke="#ff8c00" stroke-width="1.5" stroke-linejoin="round" points="1322.20,685.29 1334.10,1032.20 1346.00,999.71 1357.90,826.75 1369.80,1032.20 1381.70,826.75 1393.60,999.71 1405.50,1032.20 1417.40,685.29 1429.30,1032.20 1441.20,999.71 1453.10,826.75 1465.00,1032.20 1476.90,826.75 1488.80,999.71 1500.70,1032.20 1512.60,685.29 1524.50,1032.20 1536.40,999.71 1548.30,826.75 1560.20,1032.20 1572.10,826.75 1584.00,999.71 1595.90,1032.20 1607.80,685.29 1619.70,1032.20 1631.60,999.71 1643.50,826.75 1655.40,1032.20 1667.30,826.75 1679.20,999.71 1691.10,1032.20"/><path fill="#ff8c00" d="M1316.25 685.29a5.95 5.95 0 1 0 11.9 0a5.95 5.95 0 1 0 -11.9 0ZM1328.15 1032.20a5.95 5.95 0 1 0 11.9 0a5.95 5.95 0 1 0 -11.9 0ZM1340.05 999.71a5.95 5.95 0 1 0 11.9 0a5.95 5.95 0 1 0 -11.9 0ZM1351.95 826.75a5.95 5.95 0 1 0 11.9 0a5.95 5.95 0 1 0 -11.9 0ZM1363.85 1032.20a5.95 5.95 0 1 0 11.9 0a5.95 5.95 0 1 0 -11.9 0ZM1375.75 826.75a5.95 5.95 0 1 0 11.9 0a5.95 5.95 0 1 0 -11.9 0ZM1387.65 999.71a5.95 5.95 0 1 0 11.9 0a5.95 5.95 0 1 0 -11.9 0ZM1399.55 1032.20a5.95 5.95 0 1 0 11.9 0a5.95 5.95 0 1 0 -11.9 0ZM1411.45 685.29a5.95 5.95 0 1 0 11.9 0a5.95 5.95 0 1 0 -11.9 0ZM1423.35 1032.20a5.95 5.95 0 1 0 11.9 0a5.95 5.95 0 1 0 -11.9 0ZM1435.25 999.71a5.95 5.95 0 1 0 11.9 0a5.95 5.95 0 1 0 -11.9 0ZM1447.15 826.75a5.95 5.95 0 1 0 11.9 0a5.95 5.95 0 1 0 -11.9 0ZM1459.05 1032.20a5.95 5.95 0 1 0 11.9 0a5.95 5.95 0 1 0 -11.9 0ZM1470.95 826.75a5.95 5.95 0 1 0 11.9 0a5.95 5.95 0 1 0 -11.9 0ZM1482.85 999.71a5.95 5.95 0 1 0 11.9 0a5.95 5.95 0 1 0 -11.9 0ZM1494.75 1032.20a5.95 5.95 0 1 0 11.9 0a5.95 5.95 0 1 0 -11.9 0ZM1506.65 685.29a5.95 5.95 0 1 0 11.9 0a5.95 5.95 0 1 0 -11.9 0ZM1518.55 1032.20a5.95 5.95 0 1 0 11.9 0a5.95 5.95 0 1 0 -11.9 0ZM1530.45 999.71a5.95 5.95 0 1 0 11.9 0a5.95 5.95 0 1 0 -11.9 0ZM1542.35 826.75a5.95 5.95 0 1 0 11.9 0a5.95 5.95 0 1 0 -11.9 0ZM1554.25 1032.20a5.95 5.95 0 1 0 11.9 0a5.95 5.95 0 1 0 -11.9 0ZM1566.15 826.75a5.95 5.95 0 1 0 11.9 0a5.95 5.95 0 1 0 -11.9 0ZM1578.05 999.71a5.95 5.95 0 1 0 11.9 0a5.95 5.95 0 1 0 -11.9 0ZM1589.95 1032.20a5.95 5.95 0 1 0 11.9 0a5.95 5.95 0 1 0 -11.9 0ZM1601.85 685.29a5.95 5.95 0 1 0 11.9 0a5.95 5.95 0 1 0 -11.9 0ZM1613.75 1032.20a5.95 5.95 0 1 0 11.9 0a5.95 5.95 0 1 0 -11.9 0ZM1625.65 999.71a5.95 5.95 0 1 0 11.9 0a5.95 5.95 0 1 0 -11.9 0ZM1637.55 826.75a5.95 5.95 0 1 0 11.9 0a5.95 5.95 0 1 0 -11.9 0ZM1649.45 1032.20a5.95 5.95 0 1 0 11.9 0a5.95 5.95 0 1 0 -11.9 0ZM1661.35 826.75a5.95 5.95 0 1 0 11.9 0a5.95 5.95 0 1 0 -11.9 0ZM1673.25 999.71a5.95 5.95 0 1 0 11.9 0a5.95 5.95 0 1 0 -11.9 0ZM1685.15 1032.20a5.95 5.95 0 1 0 11.9 0a5.95 5.95 0 1 0 -11.9 0Z"/></g>
<rect x="1298.90" y="651.00" width="415.90" height="381.20" fill="none" stroke="#262626" stroke-width="1.65"/>
<path stroke="#3a3a3a" stroke-width="0.95" fill="none" d="M1322.20 1032.20v3.7M1381.70 1032.20v3.7M1441.20 1032.20v3.7M1500.70 1032.20v3.7M1560.20 1032.20v3.7M1619.70 1032.20v3.7M1679.20 1032.20v3.7M1298.90 1032.20h-3.7M1298.90 966.56h-3.7M1298.90 900.92h-3.7M1298.90 835.28h-3.7M1298.90 769.64h-3.7M1298.90 704.00h-3.7"/>
<text x="1321.60" y="1061.80" text-anchor="middle" class="tk">0</text>
<text x="1381.70" y="1061.80" text-anchor="middle" class="tk">5</text>
<text x="1439.90" y="1061.80" text-anchor="middle" class="tk">10</text>
<text x="1503.30" y="1061.80" text-anchor="middle" class="tk">15</text>
<text x="1558.60" y="1061.80" text-anchor="middle" class="tk">20</text>
<text x="1621.90" y="1061.80" text-anchor="middle" class="tk">25</text>
<text x="1681.80" y="1061.80" text-anchor="middle" class="tk">30</text>
<text x="1293.00" y="1042.80" text-anchor="end" class="tk">0.00</text>
<text x="1293.00" y="977.16" text-anchor="end" class="tk">0.02</text>
<text x="1293.00" y="911.52" text-anchor="end" class="tk">0.04</text>
<text x="1293.00" y="845.88" text-anchor="end" class="tk">0.06</text>
<text x="1293.00" y="780.24" text-anchor="end" class="tk">0.08</text>
<text x="1293.00" y="714.60" text-anchor="end" class="tk">0.10</text>
<text x="361.0" y="89.3" class="ttl" textLength="221" lengthAdjust="spacingAndGlyphs">Textbook QFT</text><text x="894.8" y="89.3" class="ttl" textLength="392" lengthAdjust="spacingAndGlyphs">Classically-controlled QFT</text><text x="20.8" y="24.7" class="hb" textLength="46.0" lengthAdjust="spacingAndGlyphs">(a)</text><text x="80.0" y="24.7" class="ttl" textLength="585.5" lengthAdjust="spacingAndGlyphs">Bi-modal Gaussian function on 5 qubits</text><rect x="80.0" y="34.65" width="586.0" height="1.7" fill="#000"/><text x="-1.6" y="612.4" class="hb" textLength="46.5" lengthAdjust="spacingAndGlyphs">(b)</text><text x="58.6" y="612.4" class="ttl" textLength="527.7" lengthAdjust="spacingAndGlyphs">Log-normal distribution on 6 qubits</text><rect x="59.1" y="622.25" width="526.9" height="1.7" fill="#000"/><text x="645.3" y="612.4" class="hb" textLength="43.6" lengthAdjust="spacingAndGlyphs">(c)</text><text x="702.9" y="612.4" class="ttl" textLength="463.9" lengthAdjust="spacingAndGlyphs">Lorentzian function on 6 qubits</text><rect x="702.6" y="622.35" width="463.9999999999999" height="1.7" fill="#000"/><text x="1228.6" y="612.4" class="hb" textLength="47.4" lengthAdjust="spacingAndGlyphs">(d)</text><text x="1286.4" y="612.4" class="ttl" textLength="411.6" lengthAdjust="spacingAndGlyphs">&#8216;Spiky&#8217; function on 5 qubits</text><rect x="1289.5" y="622.25" width="408.4000000000001" height="1.7" fill="#000"/><text transform="translate(171.1,286.85) rotate(-90)" x="0" y="0" text-anchor="middle" class="yl" textLength="62" lengthAdjust="spacing"><tspan font-style="italic">f</tspan>(<tspan font-style="italic">x</tspan>)</text><text transform="translate(779.8,291.9) rotate(-90)" x="0" y="0" text-anchor="middle" class="yl" textLength="62" lengthAdjust="spacing"><tspan font-style="italic">f</tspan>(<tspan font-style="italic">x</tspan>)</text><text transform="translate(37.4,854.0) rotate(-90)" x="0" y="0" text-anchor="middle" class="yl" textLength="62" lengthAdjust="spacing"><tspan font-style="italic">f</tspan>(<tspan font-style="italic">x</tspan>)</text><text transform="translate(630.1,854.0) rotate(-90)" x="0" y="0" text-anchor="middle" class="yl" textLength="62" lengthAdjust="spacing"><tspan font-style="italic">f</tspan>(<tspan font-style="italic">x</tspan>)</text><text transform="translate(1202.9,854.0) rotate(-90)" x="0" y="0" text-anchor="middle" class="yl" textLength="62" lengthAdjust="spacing"><tspan font-style="italic">f</tspan>(<tspan font-style="italic">x</tspan>)</text><text x="466.6" y="552.2" text-anchor="middle" class="xl">x</text><text x="1080.8" y="552.2" text-anchor="middle" class="xl">x</text><text x="332.0" y="1094.4" text-anchor="middle" class="xl">x</text><text x="925.5" y="1094.4" text-anchor="middle" class="xl">x</text><text x="1503.5" y="1094.4" text-anchor="middle" class="xl">x</text>
<rect x="1401.6" y="107.9" width="308.0" height="78.6" rx="5" ry="5" fill="#fff" fill-opacity="0.8" stroke="#d4d4d4" stroke-width="1.3"/><path d="M1409.8 126.9H1463.1" stroke="#ff8c00" stroke-width="1.9"/><circle cx="1436.7" cy="127.0" r="8.2" fill="#ff8c00"/><rect x="1410.9" y="153.6" width="50.8" height="17.3" fill="#4169e1"/><text x="1482.4" y="135.2" class="lg" textLength="63.5" lengthAdjust="spacingAndGlyphs">Target</text><text x="1482.2" y="170.9" class="lg" textLength="216" lengthAdjust="spacingAndGlyphs">Quantinuum H1 Data</text>
</svg>
</body></html>
